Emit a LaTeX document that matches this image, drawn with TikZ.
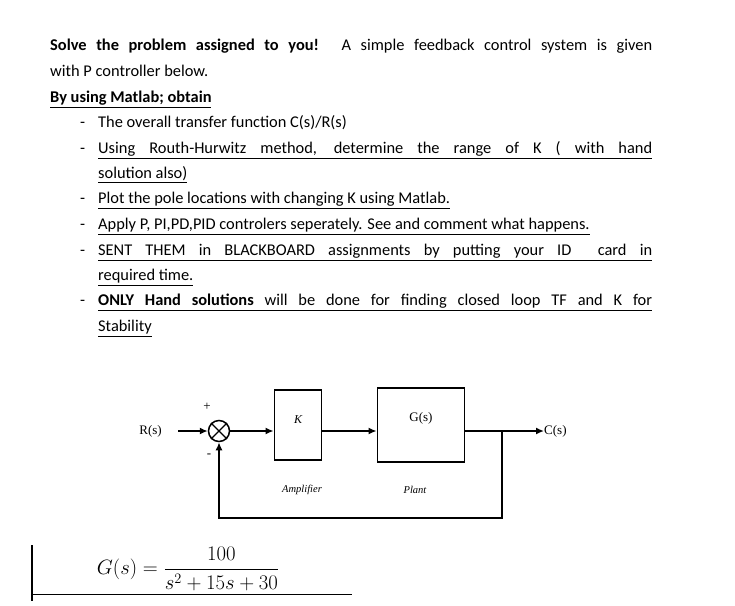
\documentclass[tikz,border=0pt]{standalone}
\usepackage{amsmath}
\usepackage{fontspec}
\setmainfont{Carlito}
\newfontfamily\tms{Liberation Serif}
\usetikzlibrary{arrows.meta}
\begin{document}
\begin{tikzpicture}[x=1pt,y=-1pt,
  txt/.style={anchor=base west,inner sep=0pt,font=\fontsize{16.4}{19}\selectfont},
  blk/.style={draw,line width=1.8pt,inner sep=0pt},
  sig/.style={line width=2pt,-{Latex[length=8pt,width=7pt]}},
  lab/.style={font=\tms\fontsize{13}{15}\selectfont,inner sep=0pt}]
\useasboundingbox (0,0) rectangle (735,605);
\node[txt] (l1) at (50,50) {\makebox[602pt][s]{\textbf{Solve the problem assigned to you!} A simple feedback control system is given}};
\node[txt] (l2) at (50,76) {with P controller below.};
\node[txt] (l3) at (50,102) {\underline{\textbf{By using Matlab; obtain}}};
\foreach \y in {127,153,203,229,255,305} \node[txt] at (80,\y) {-};
\node[txt] (b1) at (98,127) {The overall transfer function C(s)/R(s)};
\node[txt] (b2) at (98,153) {\underline{\makebox[554pt][s]{Using Routh-Hurwitz method, determine the range of K ( with hand}}};
\node[txt] (b2b) at (98,178) {\underline{solution also)}};
\node[txt] (b3) at (98,203) {\underline{Plot the pole locations with changing K using Matlab.}};
\node[txt] (b4) at (98,229) {\underline{Apply P, PI,PD,PID controlers seperately. See and comment what happens.}};
\node[txt] (b5) at (98,255) {\underline{\makebox[554pt][s]{SENT THEM in BLACKBOARD assignments by putting your ID~ card in}}};
\node[txt] (b5b) at (98,280) {\underline{required time.}};
\node[txt] (b6) at (98,305) {\underline{\makebox[554pt][s]{\textbf{ONLY Hand solutions} will be done for finding closed loop TF and K for}}};
\node[txt] (b6b) at (98,331) {\underline{Stability}};
% block diagram
\node[lab,anchor=east] (R) at (162,431) {R(s)};
\coordinate (rin) at (178,431);
\node[draw,circle,line width=1.5pt,minimum size=21pt,inner sep=0pt] (sum) at (219,431) {};
\draw[line width=1.2pt] (sum.north west)--(sum.south east) (sum.north east)--(sum.south west);
\node[blk,minimum width=47pt,minimum height=70pt] (K) at (298,425) {};
\node[lab,font=\tms\itshape\fontsize{12}{14}\selectfont] at (298,420) {K};
\node[blk,minimum width=87pt,minimum height=74pt] (G) at (421,425) {};
\node[lab] at (421,418) {G(s)};
\node[lab,font=\tms\itshape\fontsize{10.5}{12}\selectfont] (amp) at (302,490) {Amplifier};
\node[lab,font=\tms\itshape\fontsize{10.5}{12}\selectfont] (pl) at (415,490) {Plant};
\node[lab,anchor=west] (C) at (544,431) {C(s)};
\node[lab] at (207,407) {+};
\node[lab] at (209,456) {-};
\draw[sig] (rin) -- (sum.west);
\draw[sig] (sum.east) -- (K.west|-sum);
\draw[sig] (K.east|-sum) -- (G.west|-sum);
\coordinate (po) at (502,431);
\coordinate (fb1) at (502,518);
\coordinate (fb2) at (219,518);
\draw[sig] (G.east|-sum) -- (C.west);
\draw[sig] (po) -- (fb1) -- (fb2) -- (sum.south);
% equation
\coordinate (v1) at (32,545); \coordinate (v2) at (32,601);
\coordinate (h1) at (32,594); \coordinate (h2) at (352,594);
\draw[line width=1.2pt] (v1)--(v2);
\draw[line width=1pt] (h1)--(h2);
\node[inner sep=0pt,font=\fontsize{21}{24}\selectfont] (eq) at (188,569) {$G(s)=\dfrac{100}{s^2+15s+30}$};
\end{tikzpicture}
\end{document}
